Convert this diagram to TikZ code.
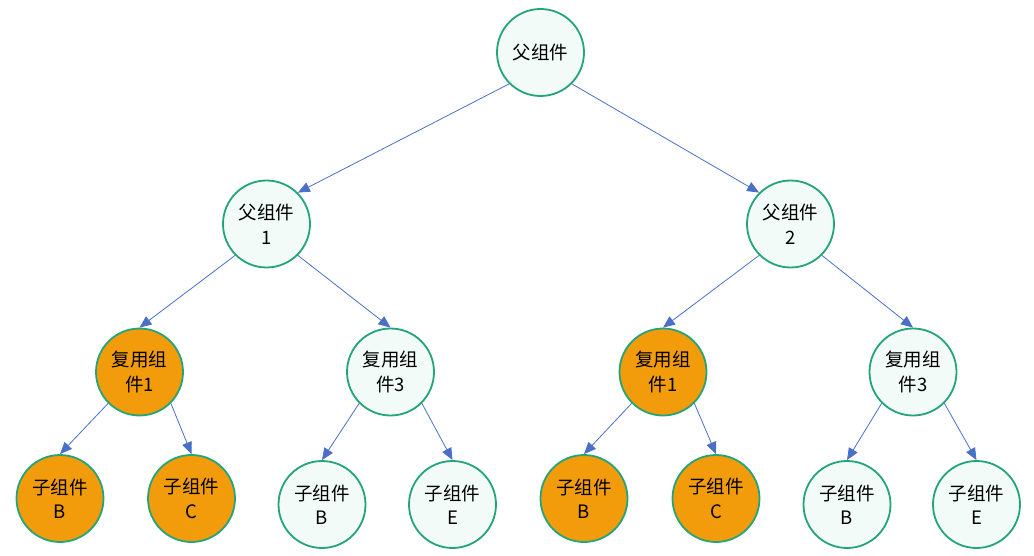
\documentclass[tikz,border=0pt]{standalone}
\usepackage{fontspec}
\setmainfont{Noto Sans CJK SC}
\usetikzlibrary{arrows.meta}
\definecolor{nodegreen}{HTML}{23A47A}
\definecolor{mint}{HTML}{F2FBF7}
\definecolor{orangefill}{HTML}{F39C0B}
\definecolor{edgeblue}{HTML}{4A6FC6}
\tikzset{
  comp/.style={circle, draw=nodegreen, line width=1.8pt, minimum size=87pt, inner sep=0pt,
    align=center, font=\fontsize{18.5}{24.5}\selectfont, text=black},
  plain/.style={comp, fill=mint},
  reused/.style={comp, fill=orangefill},
  edge/.style={draw=edgeblue, line width=0.8pt, -{Triangle[length=12pt,width=10pt]}}
}
\begin{document}
\begin{tikzpicture}[x=1pt,y=-1pt]
\useasboundingbox (0,0) rectangle (1034,556);
\node[plain] (root) at (540.5,52.5) {父组件};
\node[plain] (p1) at (266.5,224) {父组件\\1};
\node[plain] (p2) at (790.5,224) {父组件\\2};
\node[reused] (r1a) at (139.5,372) {复用组\\件1};
\node[plain] (r3a) at (390.5,372) {复用组\\件3};
\node[reused] (r1b) at (663,372) {复用组\\件1};
\node[plain] (r3b) at (913,372) {复用组\\件3};
\node[reused] (la) at (60,498.5) {子组件\\B};
\node[reused] (lb) at (191.5,498.5) {子组件\\C};
\node[plain] (lc) at (322,504.5) {子组件\\B};
\node[plain] (ld) at (452.5,504.5) {子组件\\E};
\node[reused] (le) at (584,498.5) {子组件\\B};
\node[reused] (lf) at (716,498.5) {子组件\\C};
\node[plain] (lg) at (847,504.5) {子组件\\B};
\node[plain] (lh) at (976.5,504.5) {子组件\\E};
\draw[edge] (root.south west) -- (p1.north east);
\draw[edge] (root.south east) -- (p2.north west);
\draw[edge] (p1.south west) -- (r1a.north);
\draw[edge] (p1.south east) -- (r3a.north);
\draw[edge] (p2.south west) -- (r1b.north);
\draw[edge] (p2.south east) -- (r3b.north);
\draw[edge] (r1a.south west) -- (la.north);
\draw[edge] (r1a.south east) -- (lb.north);
\draw[edge] (r3a.south west) -- (lc.north);
\draw[edge] (r3a.south east) -- (ld.north);
\draw[edge] (r1b.south west) -- (le.north);
\draw[edge] (r1b.south east) -- (lf.north);
\draw[edge] (r3b.south west) -- (lg.north);
\draw[edge] (r3b.south east) -- (lh.north);
\end{tikzpicture}
\end{document}
